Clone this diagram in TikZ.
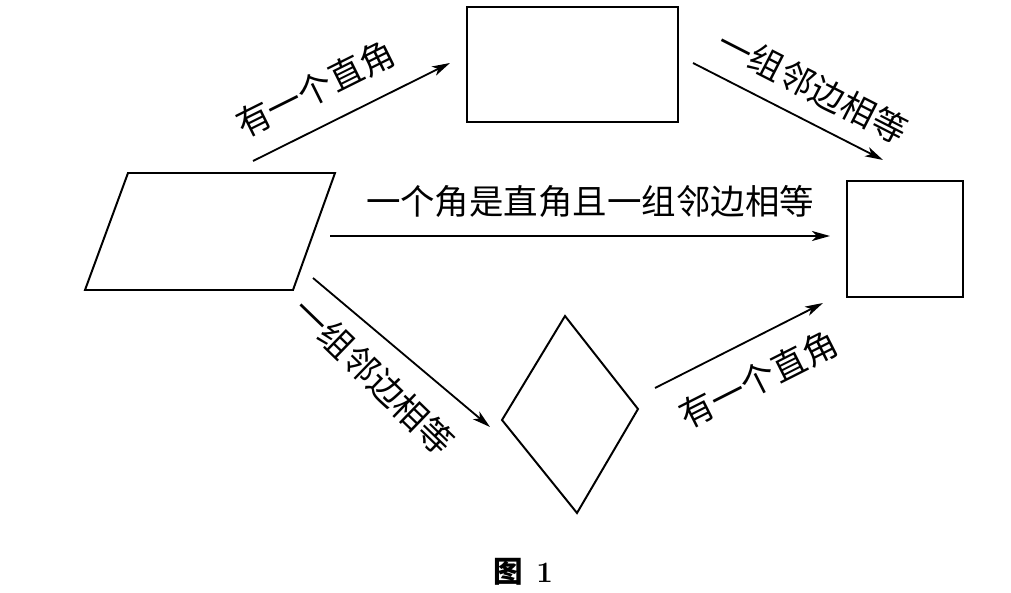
\documentclass[tikz,border=0pt]{standalone}
\usepackage{fontspec}
\newfontfamily\cjk{Noto Sans CJK SC}
\usetikzlibrary{arrows.meta}

\begin{document}
\begin{tikzpicture}[
  x=0.025cm,
  y=-0.025cm,
  font=\cjk\fontsize{24.5}{28}\selectfont,
  fig/.style={
    draw,
    line width=1.4pt,
    line join=miter
  },
  arr/.style={
    -{Stealth[length=0.45cm,width=0.25cm,inset=0.12cm]},
    line width=1.3pt
  },
  lbl/.style={
    sloped,
    inner sep=0pt
  }
]

\useasboundingbox (0,0) rectangle (1011,592);

% =========================================================
% FIGURAS
% =========================================================

% --- paralelogramo ---
\coordinate (pa) at (85,290);
\coordinate (pb) at (293,290);
\coordinate (pc) at (335,173);
\coordinate (pd) at (128,173);
\draw[fig] (pa) -- (pb) -- (pc) -- (pd) -- cycle;

% --- rectangulo ---
\coordinate (ra) at (467,7);
\coordinate (rb) at (678,122);
\draw[fig] (ra) rectangle (rb);

% --- cuadrado ---
\coordinate (sa) at (847,181);
\coordinate (sb) at (963,297);
\draw[fig] (sa) rectangle (sb);

% --- rombo ---
\coordinate (ht) at (565,316);
\coordinate (hr) at (638,409);
\coordinate (hb) at (577,513);
\coordinate (hl) at (502,420);
\draw[fig] (ht) -- (hr) -- (hb) -- (hl) -- cycle;


% =========================================================
% FLECHAS
% =========================================================

\coordinate (a1) at (253,161);
\coordinate (b1) at (450,63);
\coordinate (a2) at (693,63);
\coordinate (b2) at (883,160);
\coordinate (a3) at (330,236);
\coordinate (b3) at (830,236);
\coordinate (a4) at (313,278);
\coordinate (b4) at (490,427);
\coordinate (a5) at (655,388);
\coordinate (b5) at (823,303);

\draw[arr]
  (a1) -- node[lbl, pos=0.40, above=0.5cm] {有一个直角} (b1);

\draw[arr]
  (a2) -- node[lbl, pos=0.55, above=0.42cm] {一组邻边相等} (b2);

\draw[arr]
  (a3) -- node[lbl, pos=0.52, above=0.44cm] {一个角是直角且一组邻边相等} (b3);

\draw[arr]
  (a4) -- node[lbl, pos=0.48, below=0.46cm, rotate=-4] {一组邻边相等} (b4);

\draw[arr]
  (a5) -- node[lbl, pos=0.51, below=0.55cm] {有一个直角} (b5);


% =========================================================
% PIE
% =========================================================

\node[font=\fontsize{21}{24}\selectfont] (cap) at (523,572)
  {{\cjk\bfseries 图}\, \textbf{1}};

\end{tikzpicture}
\end{document}
